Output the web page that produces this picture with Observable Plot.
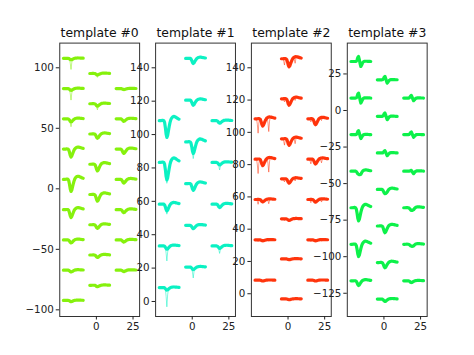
<!DOCTYPE html>
<html><head><meta charset="utf-8">
<script src="https://cdn.jsdelivr.net/npm/d3@7"></script>
<script src="https://cdn.jsdelivr.net/npm/@observablehq/plot@0.6"></script>
<style>
body{margin:0;background:#fff}
#c{position:relative;width:474px;height:355px}
#c svg{position:absolute;left:0;top:0}
</style>
</head><body><div id="c"></div>
<script>
// ---- data ----
const titles = ["template #0", "template #1", "template #2", "template #3"];
const colors = ["#7ff000", "#00f0c0", "#ff2a00", "#00f040"];
const colX = [-18, 0, 18];            // probe column positions
const waveWidth = 13.5;               // x extent of one drawn waveform
const waveStart = -4.5;               // offset of waveform start from channel x

// normalized template shapes (27 samples)
const negShape = [0,0,0,0.01,0.02,0.02,0,-0.1,-0.4,-0.8,-1,-0.88,-0.62,-0.36,-0.13,0.04,0.14,0.2,0.24,0.26,0.25,0.23,0.2,0.17,0.14,0.11,0.09];
const posShape = [0,0,0,0,0,0,0,0.05,0.3,0.8,1,0.4,-0.4,-1,-0.7,-0.35,-0.1,0,0.05,0.05,0.05,0.05,0.04,0.03,0.02,0.02,0.01];
const faintSharp = [0,0,0,0,0,0,0,0,0,-0.4,-1,-0.3,0,0,0,0,0,0,0,0,0,0,0,0,0,0,0];
const faintDouble = [0,0,0,-0.4,-1,-0.3,0,0,0,0,0,0,0,0,0,0,0,-0.4,-1,-0.3,0,0,0,0,0,0,0];

// template #0
const p0Col = [0,0,0,0,0,0,0,0,0, 1,1,1,1,1,1,1,1, 2,2,2,2,2,2,2];
const p0Y = [107.8,82.8,57.8,32.8,7.8,-17.2,-42.2,-67.2,-92.2, 95.3,70.3,45.3,20.3,-4.7,-29.7,-54.7,-79.7, 82.8,57.8,32.8,7.8,-17.2,-42.2,-67.2];
const p0Trough = [1.2,1.5,2.5,6.5,10,6.5,2.5,1.5,1, 1.2,2,3.5,5.5,5.5,3,2,1.2, 0.8,2,3.5,3,2.5,1.8,1.2];
const p0Peak = [0,0,0,0,0,0,0,0,0, 0,0,0,0,0,0,0,0, 0,0,0,0,0,0,0];
const p0Faint = [8,8,4,0,0,0,0,0,0, 2,3,0,0,0,0,0,0, 0,0,0,0,0,0,0];

// template #1
const p1Col = [0,0,0,0,0, 1,1,1,1,1,1, 2,2,2,2];
const p1Y = [108.3,83.3,58.3,33.3,8.3, 145.6,120.6,95.6,70.6,45.6,20.6, 108.3,83.3,58.3,33.3];
const p1Trough = [10,10.5,4,2,1.5, 3,3,7,4,2,1.5, 1.5,1.5,2,1.5];
const p1Peak = [0,0,0,0,0, 0,0,0,0,0,0, 0,0,0,0];
const p1Faint = [0,2,2,7,10, 0,0,3,0,0,5, 0,3,0,3];

// template #2
const p2Col = [0,0,0,0,0, 1,1,1,1,1,1,1, 2,2,2,2,2];
const p2Y = [108.4,83.4,58.4,33.4,8.4, 145.6,120.8,96,71.2,46.4,21.6,-3.2, 108.4,83.4,58.4,33.4,8.4];
const p2Trough = [4.5,4,1.5,0.6,0.5, 5,4,4,2.7,1,0.5,0.5, 3.7,3,1.7,0.6,0.5];
const p2Peak = [0,0,0,0,0, 0,0,0,0,0,0,0, 0,0,0,0,0];
const p2Faint = [9,9,3,1,0, 4,2,4,2,1,0,0, 2,3,2,1,0];

// template #3
const p3Col = [0,0,0,0,0,0,0, 1,1,1,1,1,1,1, 2,2,2,2,2,2];
const p3Y = [33.5,8.5,-16.5,-41.5,-66.5,-91.5,-116.5, 21,-4,-29,-54,-79,-104,-129, 8.5,-16.5,-41.5,-66.5,-91.5,-116.5];
const p3Trough = [0,0,0,3.2,9,8.4,3.2, 0,0,0.3,3.4,4.6,3.6,1.6, 0,0,0.8,2.3,1.8,1.2];
const p3Peak = [3.4,3.4,2.7,1,0,0,0, 2.3,2.3,1.8,0.5,0,0,0, 1.8,1.8,1.4,0.5,0.5,0];
const p3Faint = [0,0,0,0,0,0,0, 0,0,0,0,0,0,0, 0,0,0,0,0,0];

const yDomains = [[-105.5,120.4],[-9,154.8],[-14.1,155.3],[-140.9,46.1]];
const yTicks = [[-100,-50,0,50,100],[0,20,40,60,80,100,120,140],[0,20,40,60,80,100,120,140],[-125,-100,-75,-50,-25,0,25]];
const xTicks = [0,25];
const xDomain = [-25,29.5];

// ---- layout ----
const W = 474, H = 355;
const panelLeft = [59.25,155.1,250.9,346.8];
const panelW = 79.86;
const mTop = 42.6, mBottom = 39;

const panels = [
  {col:p0Col,y:p0Y,trough:p0Trough,peak:p0Peak,faint:p0Faint,fshape:faintSharp},
  {col:p1Col,y:p1Y,trough:p1Trough,peak:p1Peak,faint:p1Faint,fshape:faintSharp},
  {col:p2Col,y:p2Y,trough:p2Trough,peak:p2Peak,faint:p2Faint,fshape:faintDouble},
  {col:p3Col,y:p3Y,trough:p3Trough,peak:p3Peak,faint:p3Faint,fshape:faintSharp}
];
const fmt = d => d < 0 ? "\u2212" + (-d) : String(d);
const n = negShape.length;

panels.forEach((p, k) => {
  const main = [], faint = [];
  p.y.forEach((cy, i) => {
    for (let j = 0; j < n; j++) {
      const x = colX[p.col[i]] + waveStart + j * waveWidth / (n - 1);
      const y = cy + p.trough[i] * negShape[j] + p.peak[i] * posShape[j];
      main.push({ch: i, x, y});
      if (p.faint[i] > 0) faint.push({ch: i, x, y: y + p.faint[i] * p.fshape[j]});
    }
  });
  const chart = Plot.plot({
    width: W, height: H,
    marginLeft: panelLeft[k], marginRight: W - panelLeft[k] - panelW,
    marginTop: mTop, marginBottom: mBottom,
    style: {background: "transparent", fontFamily: "DejaVu Sans", fontSize: "10.3px", color: "#222", overflow: "visible"},
    x: {domain: xDomain},
    y: {domain: yDomains[k]},
    marks: [
      Plot.line(faint, {x: "x", y: "y", z: "ch", stroke: colors[k], strokeWidth: 0.9, strokeOpacity: 0.55}),
      Plot.line(main, {x: "x", y: "y", z: "ch", stroke: colors[k], strokeWidth: 3.2, strokeOpacity: 0.95}),
      Plot.frame({stroke: "#333", strokeWidth: 1}),
      Plot.axisX({ticks: xTicks, tickFormat: fmt, tickSize: 3.5, tickPadding: 2.5, label: null}),
      Plot.axisY({ticks: yTicks[k], tickFormat: fmt, tickSize: 3.5, tickPadding: 2.5, label: null}),
      Plot.text([titles[k]], {frameAnchor: "top", text: d => d, dy: -6, lineAnchor: "bottom", fontSize: 12.4, fill: "#111"})
    ]
  });
  document.getElementById("c").appendChild(chart);
});
</script>
</body></html>
